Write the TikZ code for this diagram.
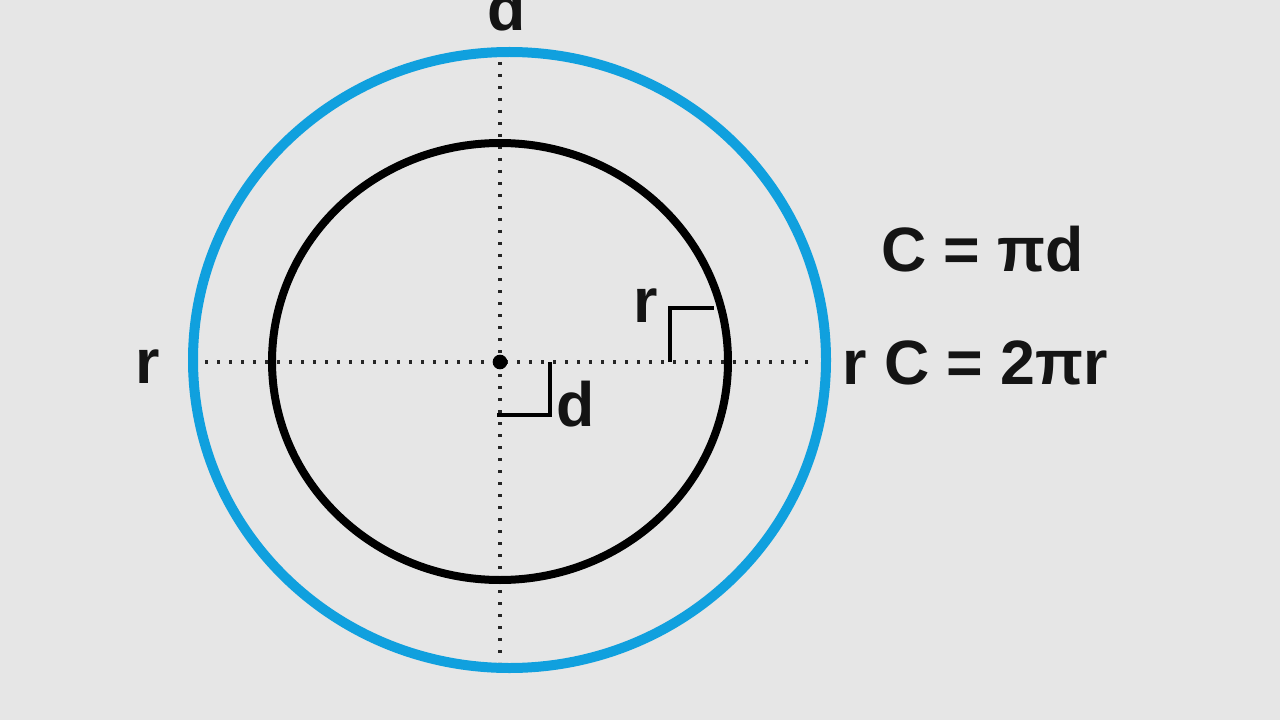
\documentclass[tikz,border=0pt]{standalone}
\usepackage{fontspec}
\setmainfont{Liberation Sans}[UprightFont=* Bold]
\definecolor{bg}{RGB}{230,230,230}
\definecolor{ringblue}{RGB}{16,160,222}
\begin{document}
\begin{tikzpicture}[x=0.75pt,y=-0.75pt,
  dotline/.style={line width=3pt,dash pattern=on 2.2pt off 6.8pt,black!85},
  marker/.style={line width=3.2pt,black},
  lbl/.style={font=\fontsize{47}{55}\selectfont,inner sep=0pt,text=black!92}]
\fill[bg] (0,0) rectangle (1280,720);
\useasboundingbox (0,0) rectangle (1280,720);
% dotted axes
\coordinate (vt) at (500,62);
\coordinate (vb) at (500,662);
\coordinate (hl) at (205,362);
\coordinate (hr) at (815,362);
\draw[dotline] (vt) -- (vb);
\draw[dotline] (hl) -- (hr);
% circles
\draw[ringblue,line width=7.5pt] (509.5,360) ellipse [x radius=316.5, y radius=308];
\draw[black,line width=6pt] (500,361.5) ellipse [x radius=228, y radius=218.5];
% centre point
\node[circle,fill=black,inner sep=0pt,minimum size=11pt] (o) at (500,362) {};
% right-angle markers
\coordinate (m1a) at (497,415);
\coordinate (m1b) at (550,415);
\coordinate (m1c) at (550,362);
\draw[marker] (m1a) -- (m1b) -- (m1c);
\coordinate (m2a) at (670,362);
\coordinate (m2b) at (670,308);
\coordinate (m2c) at (714,308);
\draw[marker] (m2a) -- (m2b) -- (m2c);
% labels
\node[lbl,anchor=base] (dtop) at (507,31) {d};
\node[lbl,anchor=base] (rleft) at (148,383) {r};
\node[lbl,anchor=base] (rin) at (646,322) {r};
\node[lbl,anchor=base west] (dc) at (556,426) {d};
\node[lbl,anchor=base west] (f1) at (881,272) {C = πd};
\node[lbl,anchor=base west] (f2) at (842,384) {r C = 2πr};
\end{tikzpicture}
\end{document}
